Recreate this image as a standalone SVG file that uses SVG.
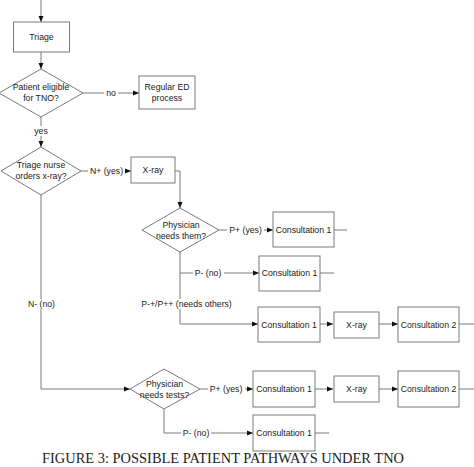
<svg xmlns="http://www.w3.org/2000/svg" width="474" height="467" viewBox="0 0 474 467">
<style>
.box{fill:#fff;stroke:#7a7a7a;stroke-width:1}
.dia{fill:#fff;stroke:#7a7a7a;stroke-width:1}
.ln{fill:none;stroke:#7a7a7a;stroke-width:1}
.t{font-family:"Liberation Sans",Arial,sans-serif;font-size:8.7px;fill:#1a1a1a;text-anchor:middle;dominant-baseline:central}
.bg{fill:#fff}
.cap{font-family:"Liberation Serif","Times New Roman",serif;font-size:15.5px;fill:#222}
</style>
<defs>
<marker id="ah" viewBox="0 0 6 6" refX="6" refY="3" markerWidth="6" markerHeight="6" markerUnits="userSpaceOnUse" orient="auto">
<path d="M0,0.5 L6,3 L0,5.5 Z" fill="#111"/>
</marker>
</defs>
<rect width="474" height="467" fill="#fff"/>
<g id="connectors">
<path class="ln" d="M41,0 V22" marker-end="url(#ah)"/>
<path class="ln" d="M41,52 V69" marker-end="url(#ah)"/>
<path class="ln" d="M83,93 H139" marker-end="url(#ah)"/>
<path class="ln" d="M41,117 V147" marker-end="url(#ah)"/>
<path class="ln" d="M81,171 H131" marker-end="url(#ah)"/>
<path class="ln" d="M175,171 H180 V208" marker-end="url(#ah)"/>
<path class="ln" d="M219,230 H273" marker-end="url(#ah)"/>
<path class="ln" d="M334,230 H347"/>
<path class="ln" d="M180,252 V324 H258" marker-end="url(#ah)"/>
<path class="ln" d="M180,273 H259" marker-end="url(#ah)"/>
<path class="ln" d="M320,273 H334"/>
<path class="ln" d="M320,324 H333" marker-end="url(#ah)"/>
<path class="ln" d="M379,324 H398" marker-end="url(#ah)"/>
<path class="ln" d="M459,324 H474"/>
<path class="ln" d="M41,195 V389 H130" marker-end="url(#ah)"/>
<path class="ln" d="M200,389 H253" marker-end="url(#ah)"/>
<path class="ln" d="M315,389 H333" marker-end="url(#ah)"/>
<path class="ln" d="M379,389 H398" marker-end="url(#ah)"/>
<path class="ln" d="M459,389 H474"/>
<path class="ln" d="M164,409 V433 H253" marker-end="url(#ah)"/>
<path class="ln" d="M315,433 H329"/>
<g id="edge-labels">
<rect class="bg" x="104" y="88" width="14" height="10"/><text class="t" x="111" y="93">no</text>
<rect class="bg" x="33" y="126" width="16" height="10"/><text class="t" x="41" y="131">yes</text>
<rect class="bg" x="88" y="166" width="37" height="10"/><text class="t" x="106.5" y="171">N+ (yes)</text>
<rect class="bg" x="227" y="225" width="37" height="10"/><text class="t" x="245.5" y="230">P+ (yes)</text>
<rect class="bg" x="193" y="268" width="31" height="10"/><text class="t" x="208" y="273">P- (no)</text>
<rect class="bg" x="138" y="299" width="97" height="10"/><text class="t" x="186.5" y="304">P-+/P++ (needs others)</text>
<rect class="bg" x="26" y="299" width="31" height="10"/><text class="t" x="41.5" y="304">N- (no)</text>
<rect class="bg" x="208" y="384" width="37" height="10"/><text class="t" x="226" y="389">P+ (yes)</text>
<rect class="bg" x="181" y="428" width="30" height="10"/><text class="t" x="196" y="433">P- (no)</text>
</g>
</g>
<g id="triage"><rect class="box" x="13.5" y="22" width="56" height="30"/><text class="t" x="41.5" y="37">Triage</text></g>
<g id="eligible"><polygon class="dia" points="41,69 83,93 41,117 -1,93"/><text class="t" x="41" y="87">Patient eligible</text><text class="t" x="41" y="98">for TNO?</text></g>
<g id="regular-ed"><rect class="box" x="139" y="76" width="56" height="33"/><text class="t" x="167" y="87">Regular ED</text><text class="t" x="167" y="98">process</text></g>
<g id="nurse-xray"><polygon class="dia" points="41,147 81,171 41,195 1,171"/><text class="t" x="41" y="165">Triage nurse</text><text class="t" x="41" y="176">orders x-ray?</text></g>
<g id="xray-1"><rect class="box" x="131" y="157" width="44" height="26"/><text class="t" x="153" y="170">X-ray</text></g>
<g id="needs-them"><polygon class="dia" points="180,208 219,230 180,252 142,230"/><text class="t" x="181" y="224.5">Physician</text><text class="t" x="181" y="235.5">needs them?</text></g>
<g id="consult-1a"><rect class="box" x="273" y="212" width="61" height="35"/><text class="t" x="303.5" y="229.5">Consultation 1</text></g>
<g id="consult-1b"><rect class="box" x="259" y="256" width="61" height="35"/><text class="t" x="289.5" y="273">Consultation 1</text></g>
<g id="consult-1c"><rect class="box" x="258" y="307" width="62" height="35"/><text class="t" x="289" y="324.5">Consultation 1</text></g>
<g id="xray-c"><rect class="box" x="334" y="312" width="45" height="26"/><text class="t" x="356.5" y="325">X-ray</text></g>
<g id="consult-2c"><rect class="box" x="398" y="307" width="61" height="35"/><text class="t" x="428.5" y="324.5">Consultation 2</text></g>
<g id="needs-tests"><polygon class="dia" points="164,369 200,389 164,409 130,389"/><text class="t" x="164.5" y="383.5">Physician</text><text class="t" x="164.5" y="394.5">needs tests?</text></g>
<g id="consult-1d"><rect class="box" x="253" y="371" width="62" height="36"/><text class="t" x="284" y="389">Consultation 1</text></g>
<g id="xray-d"><rect class="box" x="334" y="376" width="45" height="26"/><text class="t" x="356.5" y="389">X-ray</text></g>
<g id="consult-2d"><rect class="box" x="398" y="371" width="61" height="36"/><text class="t" x="428.5" y="389">Consultation 2</text></g>
<g id="consult-1e"><rect class="box" x="253" y="415" width="62" height="36"/><text class="t" x="284" y="433">Consultation 1</text></g>
<text class="cap" x="42" y="463" textLength="362" lengthAdjust="spacingAndGlyphs">FIGURE 3: POSSIBLE PATIENT PATHWAYS UNDER TNO</text>
</svg>
